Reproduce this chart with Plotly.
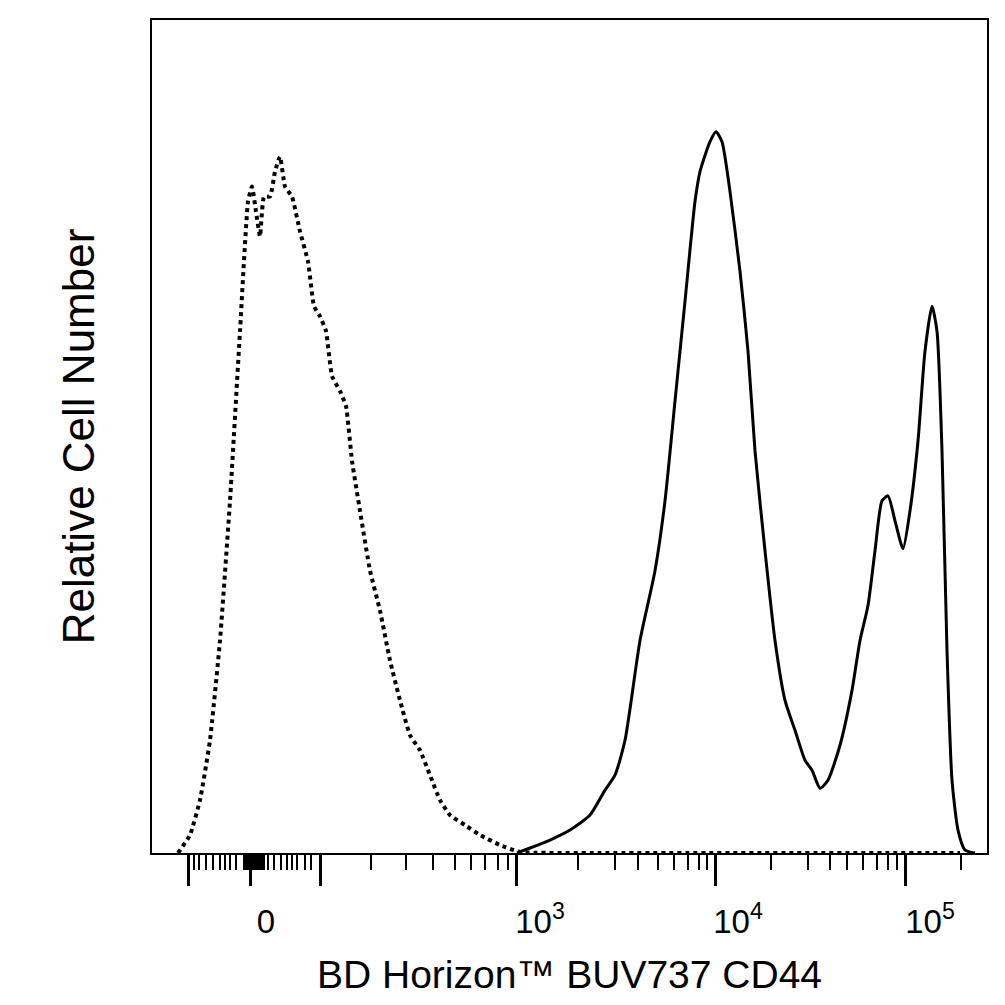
import plotly.graph_objects as go

# display-scale coordinates (biexponential axis)
iso_x = [178, 190, 200, 210, 220, 230, 240, 248, 252, 256, 260, 264, 270, 275, 280, 285, 292, 300, 308, 314,
         320, 326, 332, 340, 346, 352, 360, 370, 380, 390, 400, 410, 420, 430, 440, 450, 465, 480, 500, 520, 600, 960]
iso_y = [0, 18, 53, 113, 213, 353, 523, 653, 668, 643, 618, 658, 658, 683, 698, 668, 658, 623, 593, 548,
         538, 523, 478, 463, 448, 393, 343, 283, 243, 193, 153, 118, 103, 78, 53, 38, 28, 18, 8, 1, 0, 0]

cd44_x = [517, 530, 550, 570, 590, 605, 615, 625, 640, 655, 665, 675, 685, 695, 700, 710, 716, 722, 730, 740,
          748, 755, 765, 775, 785, 795, 805, 812, 820, 828, 840, 852, 860, 868, 875, 882, 888, 895, 903, 910,
          918, 925, 932, 937, 942, 947, 952, 958, 965, 975]
cd44_y = [0, 5, 13, 23, 38, 63, 78, 113, 213, 283, 353, 453, 553, 653, 683, 713, 723, 713, 663, 583,
          503, 403, 303, 213, 153, 123, 93, 83, 65, 73, 108, 163, 213, 248, 303, 353, 358, 333, 305, 343,
          413, 503, 548, 523, 403, 203, 73, 23, 3, 0]

label_pos = [266, 540, 738, 930]
label_text = ["0", "10<sup>3</sup>", "10<sup>4</sup>", "10<sup>5</sup>"]
major_ticks = [188, 250, 320, 516, 715, 905]
minor_ticks = [194, 199, 206, 213, 220, 225, 230, 236, 244, 246, 248, 252, 254, 256, 258, 260, 262, 264,
               268, 274, 281, 287, 292, 297, 305, 311,
               371, 406, 433, 455, 471, 485, 498, 508,
               578, 615, 638, 658, 674, 688, 699, 707,
               771, 808, 830, 847, 863, 877, 888, 897, 961]

fig = go.Figure()
fig.add_trace(go.Scatter(x=iso_x, y=iso_y, mode="lines", line=dict(color="black", width=4, dash="dot",
                                                                     shape="spline", smoothing=0.4)))
fig.add_trace(go.Scatter(x=cd44_x, y=cd44_y, mode="lines", line=dict(color="black", width=3,
                                                                     shape="spline", smoothing=0.6)))
# invisible traces to activate tick-only axes
fig.add_trace(go.Scatter(x=[300], y=[0], xaxis="x2", mode="markers", marker=dict(opacity=0)))
fig.add_trace(go.Scatter(x=[300], y=[0], xaxis="x3", mode="markers", marker=dict(opacity=0)))

rng = [152, 987]
font = dict(family="Liberation Sans, Arial", color="black")
fig.update_layout(
    width=1005, height=1005, showlegend=False,
    plot_bgcolor="white", paper_bgcolor="white",
    margin=dict(l=144, r=26, t=10, b=160),
    font=font,
    xaxis=dict(range=rng, tickvals=label_pos, ticktext=label_text, ticks="", showgrid=False, zeroline=False,
               showline=True, linecolor="black", linewidth=2, mirror=True, tickfont=dict(size=33),
               ticklabelstandoff=38,
               title=dict(text="BD Horizon™ BUV737 CD44", font=dict(size=39), standoff=22)),
    xaxis2=dict(range=rng, overlaying="x", anchor="y", side="bottom", tickvals=major_ticks, ticks="outside",
                ticklen=32, tickwidth=3, tickcolor="black", showticklabels=False, showgrid=False, zeroline=False),
    xaxis3=dict(range=rng, overlaying="x", anchor="y", side="bottom", tickvals=minor_ticks, ticks="outside",
                ticklen=16, tickwidth=2, tickcolor="black", showticklabels=False, showgrid=False, zeroline=False),
    yaxis=dict(range=[0, 835], showticklabels=False, ticks="", showgrid=False, zeroline=False,
               showline=True, linecolor="black", linewidth=2, mirror=True,
               title=dict(text="Relative Cell Number", font=dict(size=44), standoff=42)),
)
fig.write_html("out.html")
